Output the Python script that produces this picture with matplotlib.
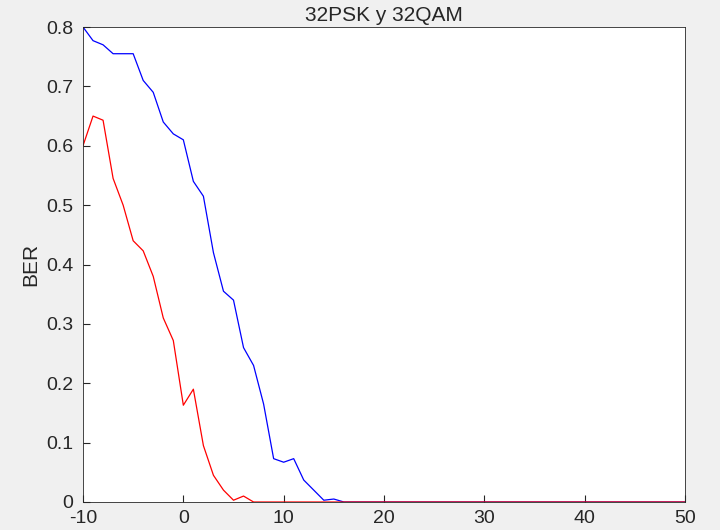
import matplotlib
matplotlib.use("Agg")
import matplotlib.pyplot as plt
import numpy as np

plt.rcParams["font.family"] = ["Liberation Sans", "DejaVu Sans"]
plt.rcParams["axes.unicode_minus"] = False

snr = np.arange(-10, 51)
ber_psk_head = [0.8, 0.777, 0.77, 0.755, 0.755, 0.755, 0.71, 0.69, 0.64, 0.62,
                0.61, 0.54, 0.515, 0.42, 0.355, 0.34, 0.26, 0.23, 0.165, 0.073,
                0.067, 0.073, 0.037, 0.02, 0.003, 0.005, 0.0]
ber_qam_head = [0.6, 0.65, 0.643, 0.545, 0.5, 0.44, 0.423, 0.38, 0.31, 0.272,
                0.163, 0.19, 0.095, 0.045, 0.02, 0.003, 0.01, 0.0]
ber_psk = ber_psk_head + [0.0] * (len(snr) - len(ber_psk_head))
ber_qam = ber_qam_head + [0.0] * (len(snr) - len(ber_qam_head))

fig = plt.figure(figsize=(7.2, 5.3), dpi=100, facecolor="#f0f0f0")
ax = fig.add_axes([83 / 720, 28 / 530, 602 / 720, 475 / 530])
ax.plot(snr, ber_psk, color="#0000ff", linewidth=0.9)
ax.plot(snr, ber_qam, color="#ff0000", linewidth=0.9)

ax.set_xlim(-10, 50)
ax.set_ylim(0, 0.8)
ax.set_xticks(range(-10, 51, 10))
ax.set_yticks(np.arange(0, 0.81, 0.1))
ax.set_yticklabels(["0", "0.1", "0.2", "0.3", "0.4", "0.5", "0.6", "0.7", "0.8"])
ax.tick_params(direction="in", labelsize=14, colors="#262626", length=5)
ax.tick_params(axis="x", pad=6)
ax.tick_params(axis="y", pad=7)
ax.set_ylabel("BER", fontsize=15, color="#262626")
ax.set_title("32PSK y 32QAM", fontsize=15, color="#262626", pad=4)
for s in ax.spines.values():
    s.set_color("#262626")
    s.set_linewidth(0.6)

fig.savefig("out.png", dpi=100, facecolor=fig.get_facecolor())
